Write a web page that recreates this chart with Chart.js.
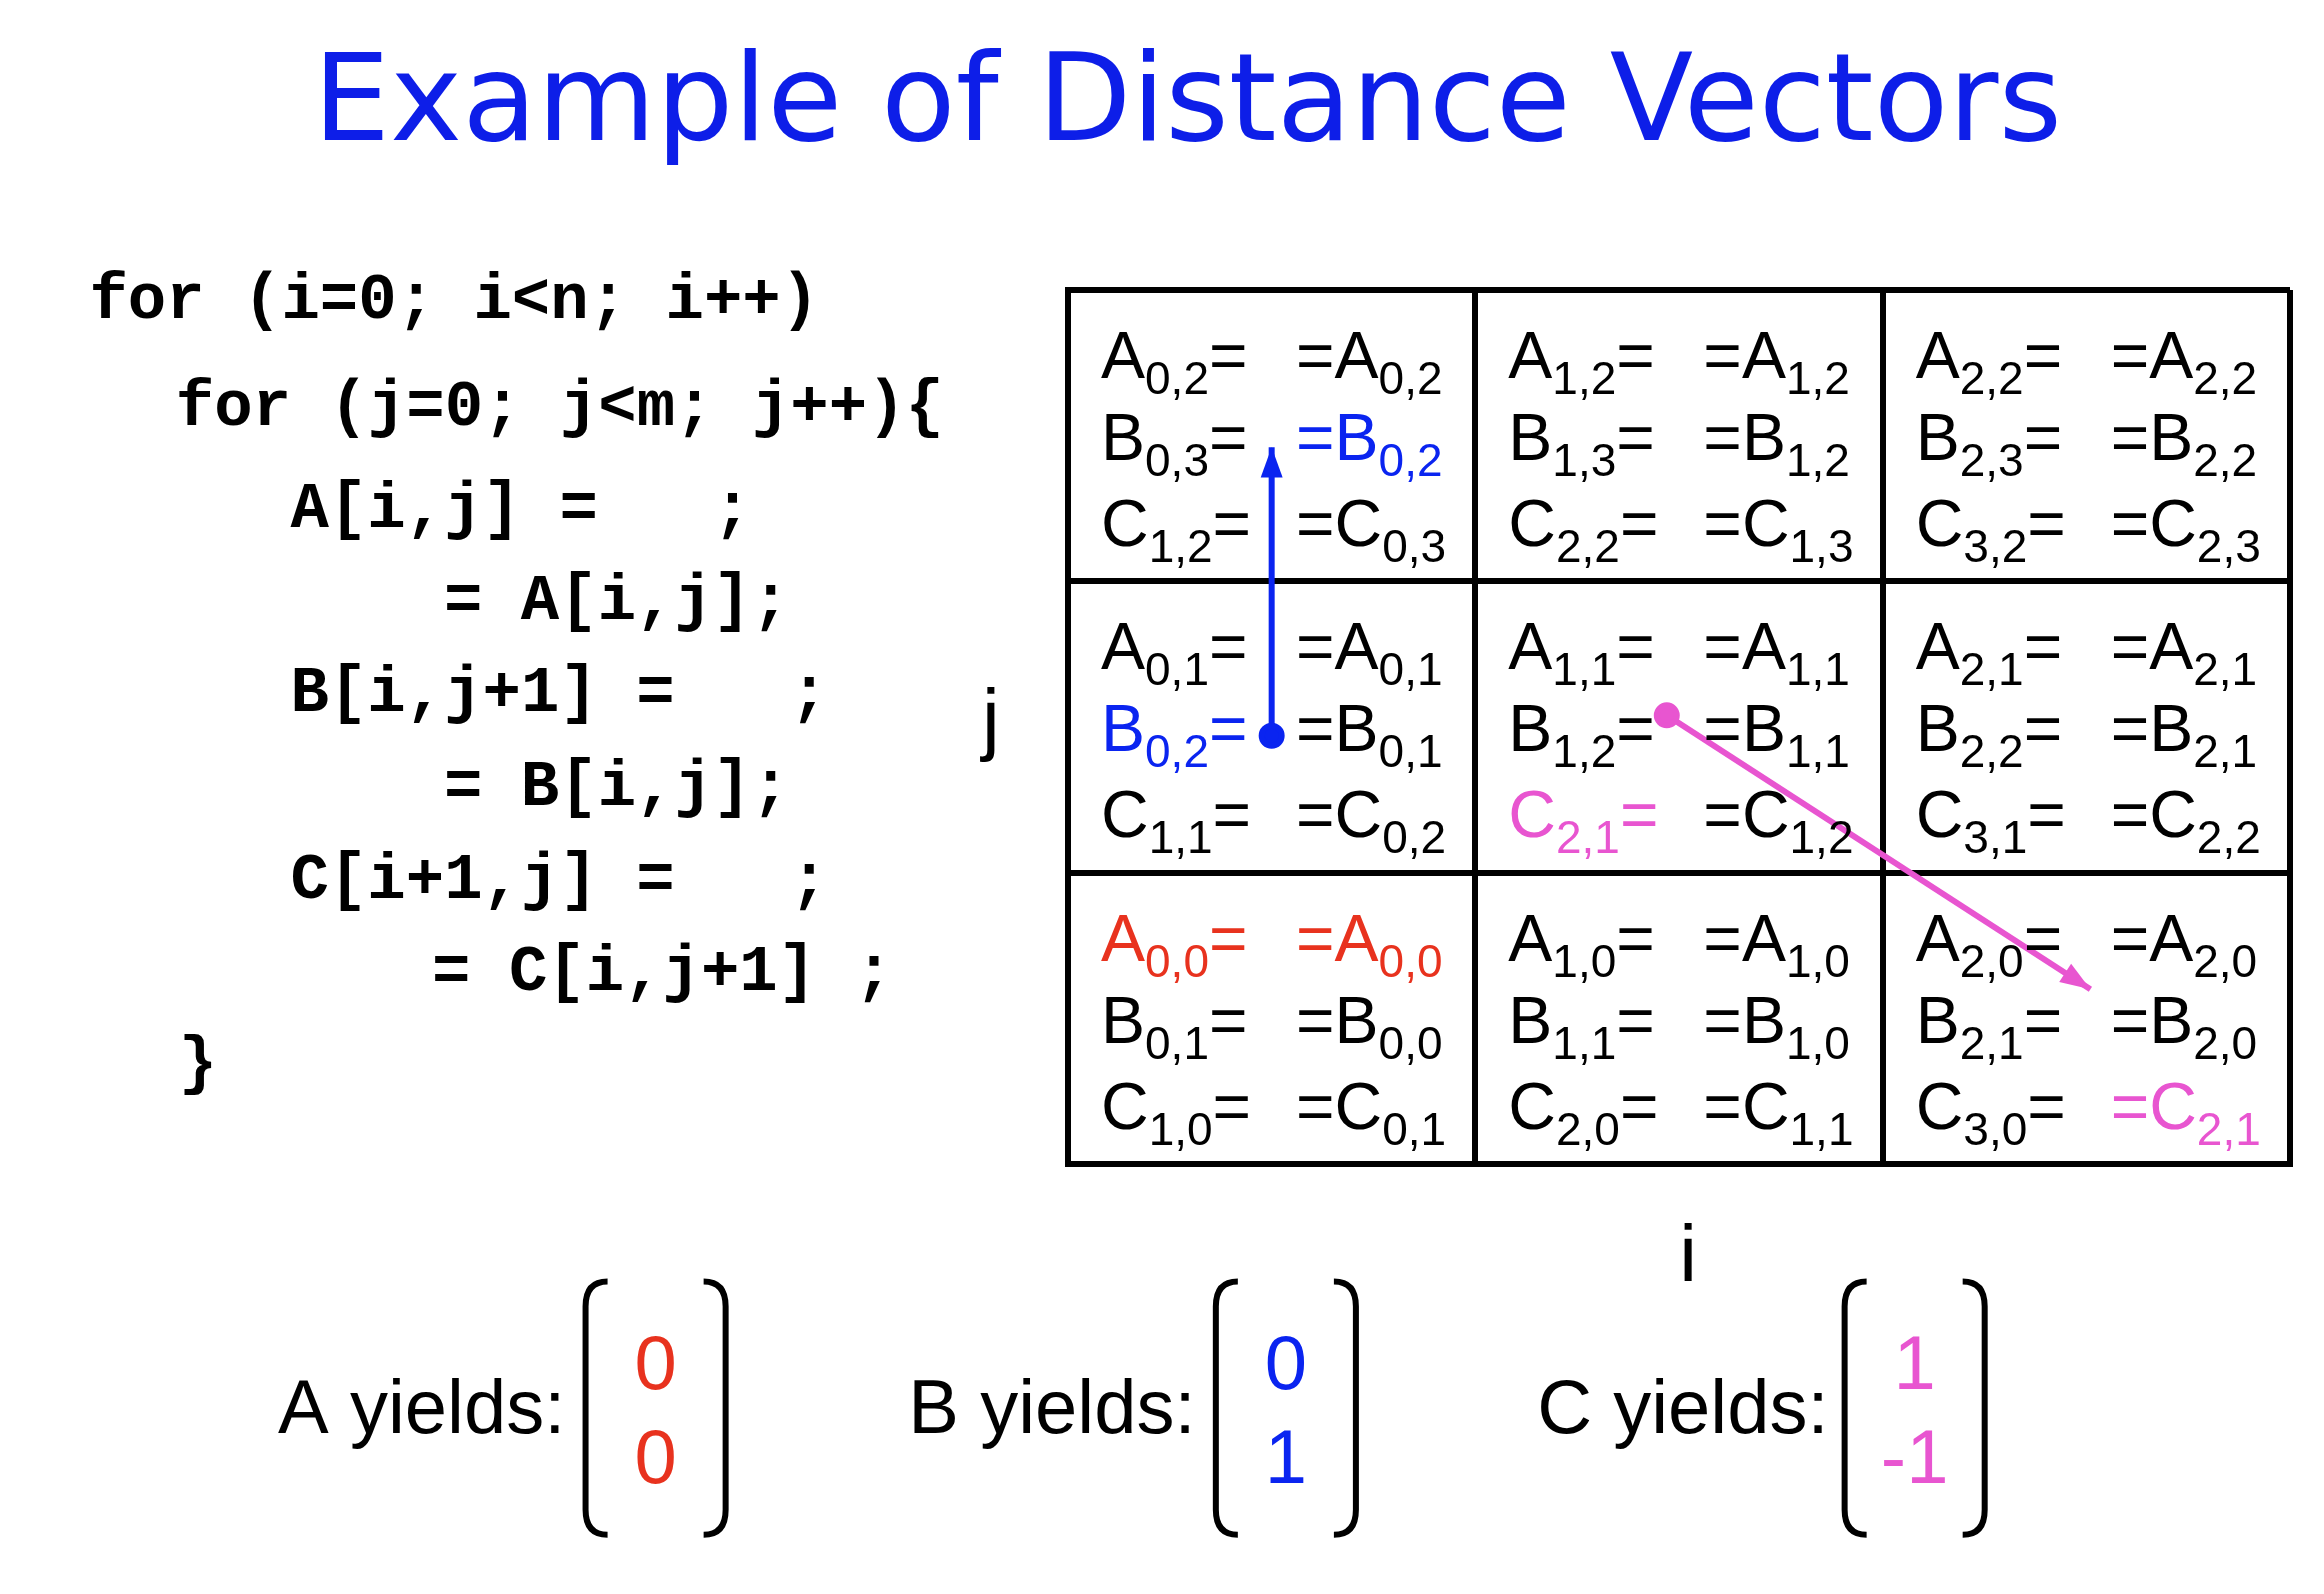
<!DOCTYPE html>
<html>
<head>
<meta charset="utf-8">
<script src="https://cdn.jsdelivr.net/npm/chart.js@4.4.0/dist/chart.umd.min.js"></script>
<style>
  html, body { margin: 0; padding: 0; background: #fff; }
  #wrap { width: 2324px; height: 1594px; position: relative; }
</style>
</head>
<body>
<div id="wrap"><canvas id="distChart"></canvas></div>
<script>
// Iteration grid and dependences
var iValues = [0, 1, 2];
var jValues = [0, 1, 2];
var arrowB = [{x: 0.5, y: 1.47}, {x: 0.5, y: 2.46}];
var arrowC = [{x: 1.47, y: 1.54}, {x: 2.51, y: 0.60}];

// Highlighted terms: cell i, j, row (0=A,1=B,2=C), side (0 left, 1 right), colour
var highlights = [
    [0, 0, 0, 0, '#e8321e'], [0, 0, 0, 1, '#e8321e'],
    [0, 1, 1, 0, '#0a24f0'], [0, 2, 1, 1, '#0a24f0'],
    [1, 1, 2, 0, '#e855d0'], [2, 0, 2, 1, '#e855d0']
];

var codeLines = ['for (i=0; i<n; i++)', 'for (j=0; j<m; j++){', 'A[i,j] =   ;', '= A[i,j];',
    'B[i,j+1] =   ;', '= B[i,j];', 'C[i+1,j] =   ;', '= C[i,j+1] ;', '}'];
var codeX = [60, 118, 195, 298, 195, 298, 195, 290, 120];
var codeY = [200, 272, 340, 402, 464, 527, 589, 651, 713];

var vecNames = ['A yields:', 'B yields:', 'C yields:'];
var vecValues = [['0', '0'], ['0', '1'], ['1', '-1']];
var vecColors = ['#e8321e', '#0a24f0', '#e855d0'];

var S = 1.49;

function cellTerms(i, j) {
    return [
        [['A', i + ',' + j], ['A', i + ',' + j]],
        [['B', i + ',' + (j + 1)], ['B', i + ',' + j]],
        [['C', (i + 1) + ',' + j], ['C', i + ',' + (j + 1)]]
    ];
}

function colorFor(i, j, r, s) {
    for (var k = 0; k < highlights.length; k++) {
        var h = highlights[k];
        if (h[0] === i && h[1] === j && h[2] === r && h[3] === s) return h[4];
    }
    return '#000';
}

var textPlugin = {
    id: 'textPlugin',
    afterDraw: function(chart) {
        var ctx = chart.ctx, xs = chart.scales.x, ys = chart.scales.y;
        var mainF = '66px "Liberation Sans", Arial, sans-serif';
        var subF = '46px "Liberation Sans", Arial, sans-serif';
        ctx.save();
        ctx.textBaseline = 'alphabetic';
        ctx.textAlign = 'left';

        // cells
        iValues.forEach(function(i) {
            jValues.forEach(function(j) {
                var left = xs.getPixelForValue(i), top = ys.getPixelForValue(j + 1);
                var terms = cellTerms(i, j);
                [88, 170, 256].forEach(function(off, r) {
                    var base = top + off;
                    ctx.fillStyle = colorFor(i, j, r, 0);
                    var x = left + 33;
                    ctx.font = mainF; ctx.fillText(terms[r][0][0], x, base); x += ctx.measureText(terms[r][0][0]).width;
                    ctx.font = subF; ctx.fillText(terms[r][0][1], x, base + 16); x += ctx.measureText(terms[r][0][1]).width;
                    ctx.font = mainF; ctx.fillText('=', x, base);
                    ctx.fillStyle = colorFor(i, j, r, 1);
                    x = left + 228;
                    ctx.font = mainF; ctx.fillText('=' + terms[r][1][0], x, base); x += ctx.measureText('=' + terms[r][1][0]).width;
                    ctx.font = subF; ctx.fillText(terms[r][1][1], x, base + 16);
                });
            });
        });

        // title
        ctx.fillStyle = '#0d1ee8';
        ctx.textAlign = 'center';
        ctx.font = '122px "DejaVu Sans", sans-serif';
        ctx.fillText('Example of Distance Vectors', 797 * S, 140);

        // axis letters
        ctx.fillStyle = '#000';
        ctx.font = '80px "Liberation Sans", Arial, sans-serif';
        ctx.fillText('i', 1133 * S, 860 * S);
        ctx.fillText('j', 665 * S, 500 * S);

        // code
        ctx.textAlign = 'left';
        ctx.font = 'bold 64px "Liberation Mono", "Courier New", monospace';
        codeLines.forEach(function(line, k) {
            ctx.fillText(line, codeX[k] * S, codeY[k] * S + 20);
        });

        // vectors
        var vx = [190, 613, 1035];
        vecNames.forEach(function(name, k) {
            ctx.fillStyle = '#000';
            ctx.textAlign = 'left';
            ctx.font = '76px "Liberation Sans", Arial, sans-serif';
            ctx.fillText(name, vx[k] * S - 5, 962 * S);
            var bl = (vx[k] + 203) * S, br = bl + 94 * S, t = 860 * S, b = 1030 * S;
            ctx.strokeStyle = '#000'; ctx.lineWidth = 6;
            ctx.beginPath();
            ctx.moveTo(bl + 22, t); ctx.quadraticCurveTo(bl, t, bl, t + 25); ctx.lineTo(bl, b - 25); ctx.quadraticCurveTo(bl, b, bl + 22, b);
            ctx.moveTo(br - 22, t); ctx.quadraticCurveTo(br, t, br, t + 25); ctx.lineTo(br, b - 25); ctx.quadraticCurveTo(br, b, br - 22, b);
            ctx.stroke();
            ctx.fillStyle = vecColors[k];
            ctx.textAlign = 'center';
            ctx.fillText(vecValues[k][0], (bl + br) / 2, 932 * S);
            ctx.fillText(vecValues[k][1], (bl + br) / 2, 995 * S);
        });

        // arrow heads
        [[arrowB, '#0a24f0'], [arrowC, '#e855d0']].forEach(function(a) {
            var p0 = a[0][0], p1 = a[0][1];
            var x0 = xs.getPixelForValue(p0.x), y0 = ys.getPixelForValue(p0.y);
            var x1 = xs.getPixelForValue(p1.x), y1 = ys.getPixelForValue(p1.y);
            var ang = Math.atan2(y1 - y0, x1 - x0), L = 32, w = 0.35;
            ctx.fillStyle = a[1];
            ctx.beginPath();
            ctx.moveTo(x1, y1);
            ctx.lineTo(x1 - L * Math.cos(ang - w), y1 - L * Math.sin(ang - w));
            ctx.lineTo(x1 - L * Math.cos(ang + w), y1 - L * Math.sin(ang + w));
            ctx.closePath(); ctx.fill();
        });
        ctx.restore();
    }
};

var ctx = document.getElementById('distChart');

var chartData = {
    datasets: [
        { data: arrowB, borderColor: '#0a24f0', backgroundColor: '#0a24f0', borderWidth: 6,
          showLine: true, pointRadius: [10, 0] },
        { data: arrowC, borderColor: '#e855d0', backgroundColor: '#e855d0', borderWidth: 6,
          showLine: true, pointRadius: [10, 0] }
    ]
};

var chartOptions = {
    responsive: true,
    maintainAspectRatio: false,
    animation: false,
    layout: { padding: { left: 1068, right: 34, top: 290, bottom: 430 } },
    plugins: { legend: { display: false }, tooltip: { enabled: false } },
    scales: {
        x: { type: 'linear', min: 0, max: 3, ticks: { display: false, stepSize: 1 },
             grid: { color: '#000', lineWidth: 6, drawTicks: false },
             border: { display: true, color: '#000', width: 6 } },
        y: { type: 'linear', min: 0, max: 3, ticks: { display: false, stepSize: 1 },
             grid: { color: '#000', lineWidth: 6, drawTicks: false },
             border: { display: true, color: '#000', width: 6 } }
    }
};

new Chart(ctx, { type: 'scatter', data: chartData, options: chartOptions, plugins: [textPlugin] });
</script>
</body>
</html>
